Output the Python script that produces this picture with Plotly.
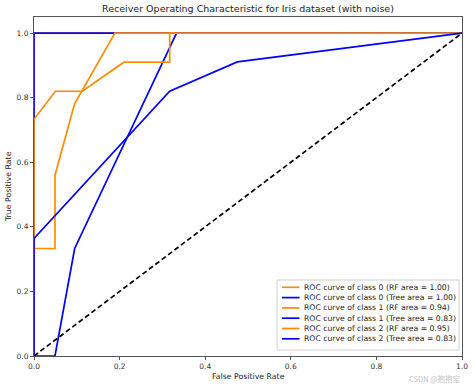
import plotly.graph_objects as go

# Data
rf0_fpr = [0.0, 0.0, 1.0]
rf0_tpr = [0.0, 1.0, 1.0]
tree0_fpr = [0.0, 0.0, 1.0]
tree0_tpr = [0.0, 1.0, 1.0]
rf1_fpr = [0.0, 0.0, 0.049, 0.049, 0.095, 0.189, 1.0]
rf1_tpr = [0.0, 0.333, 0.333, 0.56, 0.782, 1.0, 1.0]
tree1_fpr = [0.0, 0.049, 0.095, 0.333, 1.0]
tree1_tpr = [0.0, 0.0, 0.333, 1.0, 1.0]
rf2_fpr = [0.0, 0.0, 0.05, 0.113, 0.21, 0.317, 0.317, 1.0]
rf2_tpr = [0.0, 0.733, 0.82, 0.82, 0.91, 0.91, 1.0, 1.0]
tree2_fpr = [0.0, 0.0, 0.317, 0.475, 1.0]
tree2_tpr = [0.0, 0.364, 0.82, 0.911, 1.0]

rf_auc = [1.00, 0.94, 0.95]
tree_auc = [1.00, 0.83, 0.83]

chance = [0.0, 1.0]
xticks = [0.0, 0.2, 0.4, 0.6, 0.8, 1.0]
yticks = [0.0, 0.2, 0.4, 0.6, 0.8, 1.0]

ORANGE = "#FF8C00"
BLUE = "#0000FF"
FONT = "DejaVu Sans"

# plot-area geometry in pixels (used for converting legend/title positions)
W, H = 474, 386
L, R, T, B = 34, 12, 17, 30
PW, PH = W - L - R, H - T - B


def px_x(px):
    return (px - L) / PW


def px_y(py):
    return (H - B - py) / PH


fig = go.Figure()
series = [
    (rf0_fpr, rf0_tpr, ORANGE, f"ROC curve of class 0 (RF area = {rf_auc[0]:.2f})"),
    (tree0_fpr, tree0_tpr, BLUE, f"ROC curve of class 0 (Tree area = {tree_auc[0]:.2f})"),
    (rf1_fpr, rf1_tpr, ORANGE, f"ROC curve of class 1 (RF area = {rf_auc[1]:.2f})"),
    (tree1_fpr, tree1_tpr, BLUE, f"ROC curve of class 1 (Tree area = {tree_auc[1]:.2f})"),
    (rf2_fpr, rf2_tpr, ORANGE, f"ROC curve of class 2 (RF area = {rf_auc[2]:.2f})"),
    (tree2_fpr, tree2_tpr, BLUE, f"ROC curve of class 2 (Tree area = {tree_auc[2]:.2f})"),
]
for x, y, c, name in series:
    fig.add_trace(go.Scatter(x=x, y=y, mode="lines", name=name, showlegend=False,
                             line=dict(color=c, width=1.7)))

fig.add_trace(go.Scatter(x=chance, y=chance, mode="lines", showlegend=False,
                         line=dict(color="black", width=1.7, dash="5px,3px")))

# Manual compact legend (matplotlib-like spacing)
shapes = [dict(type="rect", xref="paper", yref="paper",
               x0=px_x(277), x1=px_x(459), y0=px_y(350), y1=px_y(280),
               line=dict(color="#d0d0d0", width=1), fillcolor="rgba(255,255,255,0.85)",
               layer="above")]
annotations = []
for i, (_, _, c, name) in enumerate(series):
    yy = px_y(287.3 + i * 10.3)
    shapes.append(dict(type="line", xref="paper", yref="paper",
                       x0=px_x(282), x1=px_x(299.5), y0=yy, y1=yy,
                       line=dict(color=c, width=1.7), layer="above"))
    annotations.append(dict(text=name, xref="paper", yref="paper", x=px_x(302),
                            y=yy, xanchor="left", yanchor="middle", showarrow=False,
                            font=dict(family=FONT, size=7.7, color="#222")))

# Title and axis titles
annotations.append(dict(text="Receiver Operating Characteristic for Iris dataset (with noise)",
                        xref="paper", yref="paper", x=px_x(248), y=px_y(9),
                        xanchor="center", yanchor="middle", showarrow=False,
                        font=dict(family=FONT, size=9.5, color="#222")))
annotations.append(dict(text="False Positive Rate", xref="paper", yref="paper",
                        x=px_x(248), y=px_y(376), xanchor="center", yanchor="middle",
                        showarrow=False, font=dict(family=FONT, size=7.8, color="#222")))
annotations.append(dict(text="True Positive Rate", xref="paper", yref="paper",
                        x=px_x(8), y=px_y(187), xanchor="center", yanchor="middle",
                        textangle=-90, showarrow=False,
                        font=dict(family=FONT, size=7.8, color="#222")))
annotations.append(dict(text="CSDN @抱抱宝", xref="paper", yref="paper",
                        x=px_x(462), y=px_y(378), xanchor="right", yanchor="middle",
                        showarrow=False,
                        font=dict(family="Noto Sans CJK SC, DejaVu Sans", size=7.5,
                                  color="#c4c4c4")))

fig.update_layout(
    width=W, height=H,
    margin=dict(l=L, r=R, t=T, b=B),
    paper_bgcolor="white", plot_bgcolor="white",
    font=dict(family=FONT, size=7.5, color="#333"),
    showlegend=False,
    shapes=shapes,
    annotations=annotations,
)
fig.update_xaxes(range=[0, 1], tickvals=xticks, ticktext=[f"{v:.1f}" for v in xticks],
                 showgrid=False, zeroline=False, showline=True, mirror=True,
                 linecolor="#555", linewidth=1, ticks="outside", ticklen=3,
                 tickcolor="#555", automargin=False)
fig.update_yaxes(range=[0, 1.05], tickvals=yticks, ticktext=[f"{v:.1f}" for v in yticks],
                 showgrid=False, zeroline=False, showline=True, mirror=True,
                 linecolor="#555", linewidth=1, ticks="outside", ticklen=3,
                 tickcolor="#555", automargin=False)

fig.write_html("out.html",
               config={"displayModeBar": False},
               post_script="document.body.style.margin='0';document.body.style.overflow='hidden';")
